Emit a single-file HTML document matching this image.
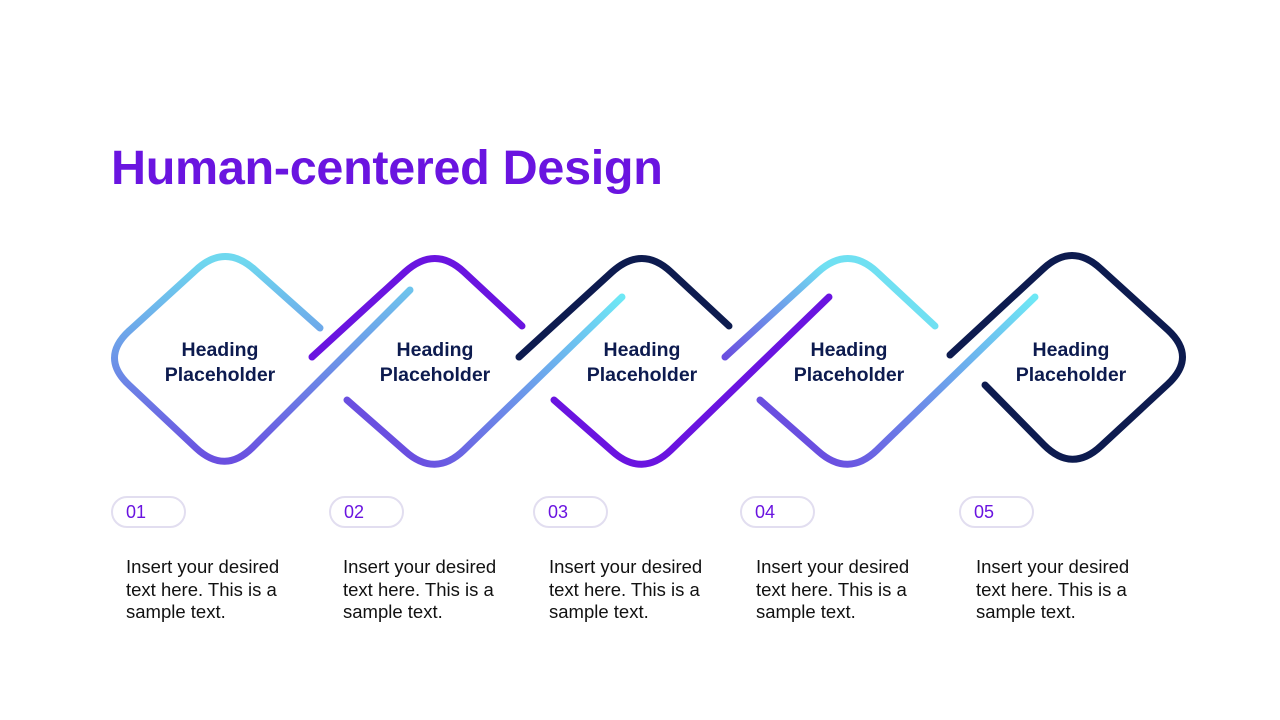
<!DOCTYPE html>
<html><head><meta charset="utf-8"><style>
body{margin:0;width:1280px;height:720px;background:#fff;overflow:hidden;position:relative;font-family:"Liberation Sans",sans-serif}
.title{position:absolute;left:111px;top:140px;font-size:48.5px;font-weight:bold;color:#6a14e0;letter-spacing:-0.3px}
.h{position:absolute;width:200px;text-align:center;font-size:19.5px;font-weight:bold;color:#0d1b4f;line-height:25px;top:338px}
.pill{position:absolute;top:496px;width:75px;height:32px;border:2px solid #e2def0;border-radius:17px;box-sizing:border-box;color:#6a14e0;font-size:18px;line-height:29px;padding-left:13px}
.t{position:absolute;top:556px;font-size:18.5px;line-height:22.5px;color:#111}
</style></head><body>
<div class="title">Human-centered Design</div>
<svg width="1280" height="720" style="position:absolute;left:0;top:0" fill="none" stroke-width="7" stroke-linecap="round" stroke-linejoin="round">
<defs>
<linearGradient id="g1" gradientUnits="userSpaceOnUse" x1="0" y1="260" x2="0" y2="460"><stop offset="0" stop-color="#6fd8ef"/><stop offset="1" stop-color="#6a4fe0"/></linearGradient>
<linearGradient id="g2" gradientUnits="userSpaceOnUse" x1="420" y1="465" x2="622" y2="297"><stop offset="0" stop-color="#6a4fe0"/><stop offset="1" stop-color="#6ee8f5"/></linearGradient>
<linearGradient id="g4t" gradientUnits="userSpaceOnUse" x1="725" y1="357" x2="820" y2="262"><stop offset="0" stop-color="#6a4fe0"/><stop offset="1" stop-color="#70e0f2"/></linearGradient>
<linearGradient id="g4b" gradientUnits="userSpaceOnUse" x1="833" y1="465" x2="1035" y2="297"><stop offset="0" stop-color="#6a4fe0"/><stop offset="1" stop-color="#6ee8f5"/></linearGradient>
</defs>
<path stroke="url(#g1)" d="M320 328 L255 270 Q225 243 196 270 L129 331 Q100 358 129 385 L196 448 Q225 475 253 447 L410 290"/>
<path stroke="#6a14e0" d="M312 357 L405 272 Q435 245 464 272 L522 326"/>
<path stroke="url(#g2)" d="M347 400 L405 451 Q435 478 464 450 L622 297"/>
<path stroke="#0d1b4f" d="M519 357 L612 272 Q642 245 671 272 L729 326"/>
<path stroke="#6a14e0" d="M554 400 L612 451 Q642 478 671 450 L829 297"/>
<path stroke="url(#g4t)" d="M725 357 L818 272 Q848 245 877 272 L935 326"/>
<path stroke="url(#g4b)" d="M760 400 L818 451 Q848 478 877 450 L1035 297"/>
<path stroke="#0d1b4f" d="M950 355 L1043 269 Q1072 242 1101 269 L1168 330 Q1197 357 1168 384 L1101 446 Q1072 473 1044 445 L985 385"/>
</svg>
<div class="h" style="left:120px">Heading<br>Placeholder</div>
<div class="h" style="left:335px">Heading<br>Placeholder</div>
<div class="h" style="left:542px">Heading<br>Placeholder</div>
<div class="h" style="left:749px">Heading<br>Placeholder</div>
<div class="h" style="left:971px">Heading<br>Placeholder</div>
<div class="pill" style="left:111px">01</div>
<div class="pill" style="left:329px">02</div>
<div class="pill" style="left:533px">03</div>
<div class="pill" style="left:740px">04</div>
<div class="pill" style="left:959px">05</div>
<div class="t" style="left:126px">Insert your desired<br>text here. This is a<br>sample text.</div>
<div class="t" style="left:343px">Insert your desired<br>text here. This is a<br>sample text.</div>
<div class="t" style="left:549px">Insert your desired<br>text here. This is a<br>sample text.</div>
<div class="t" style="left:756px">Insert your desired<br>text here. This is a<br>sample text.</div>
<div class="t" style="left:976px">Insert your desired<br>text here. This is a<br>sample text.</div>
</body></html>
